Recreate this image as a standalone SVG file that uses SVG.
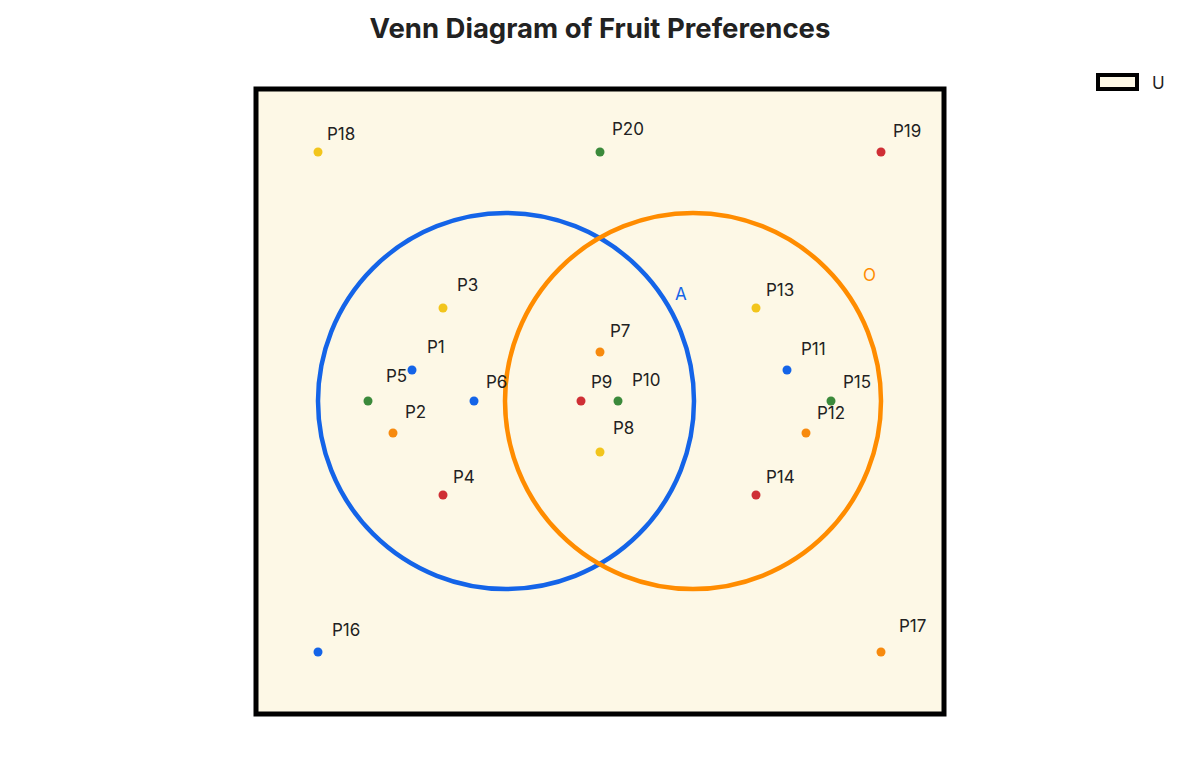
<svg xmlns="http://www.w3.org/2000/svg" width="1200" height="763" viewBox="0 0 1200 763">
<style>
text{font-family:Inter,"Noto Sans",sans-serif;font-size:17px;fill:#222}
.t{font-size:27.5px;font-weight:700;fill:#222}
.y{fill:#f2c51c}.g{fill:#3b8a3b}.r{fill:#cf2f35}.o{fill:#f78a0e}.b{fill:#1464e8}
</style>
<rect width="1200" height="763" fill="#fff"/>
<text class="t" x="600" y="38" text-anchor="middle">Venn Diagram of Fruit Preferences</text>
<g id="legend"><rect x="1098" y="75" width="39" height="14" fill="#fdf8e6" stroke="#000" stroke-width="4"/><text x="1152" y="89">U</text></g>
<g id="U"><rect x="256" y="89" width="688" height="625" fill="#fdf8e6" stroke="#000" stroke-width="5"/></g>
<g id="A"><circle cx="506" cy="401" r="188" fill="none" stroke="#1464e8" stroke-width="4.5"/><text x="675" y="300" style="fill:#1464e8">A</text></g>
<g id="O"><circle cx="693" cy="401" r="188" fill="none" stroke="#ff8c00" stroke-width="4.5"/><text x="863" y="281" style="fill:#ff8c00">O</text></g>
<g id="points">
<circle class="y" cx="318" cy="152" r="4.5"/><text x="327" y="140">P18</text>
<circle class="g" cx="600" cy="152" r="4.5"/><text x="612" y="135">P20</text>
<circle class="r" cx="881" cy="152" r="4.5"/><text x="893" y="137">P19</text>
<circle class="y" cx="443" cy="308" r="4.5"/><text x="457" y="291">P3</text>
<circle class="b" cx="412" cy="370" r="4.5"/><text x="427" y="353">P1</text>
<circle class="g" cx="368" cy="401" r="4.5"/><text x="386" y="382">P5</text>
<circle class="b" cx="474" cy="401" r="4.5"/><text x="486" y="388">P6</text>
<circle class="o" cx="393" cy="433" r="4.5"/><text x="405" y="418">P2</text>
<circle class="r" cx="443" cy="495" r="4.5"/><text x="453" y="483">P4</text>
<circle class="o" cx="600" cy="352" r="4.5"/><text x="610" y="337">P7</text>
<circle class="r" cx="581" cy="401" r="4.5"/><text x="591" y="388">P9</text>
<circle class="g" cx="618" cy="401" r="4.5"/><text x="632" y="386">P10</text>
<circle class="y" cx="600" cy="452" r="4.5"/><text x="613" y="434">P8</text>
<circle class="y" cx="756" cy="308" r="4.5"/><text x="766" y="296">P13</text>
<circle class="b" cx="787" cy="370" r="4.5"/><text x="801" y="355">P11</text>
<circle class="g" cx="831" cy="401" r="4.5"/><text x="843" y="388">P15</text>
<circle class="o" cx="806" cy="433" r="4.5"/><text x="817" y="419">P12</text>
<circle class="r" cx="756" cy="495" r="4.5"/><text x="766" y="483">P14</text>
<circle class="b" cx="318" cy="652" r="4.5"/><text x="332" y="636">P16</text>
<circle class="o" cx="881" cy="652" r="4.5"/><text x="899" y="632">P17</text>
</g>
<g id="connectors"/>
</svg>
